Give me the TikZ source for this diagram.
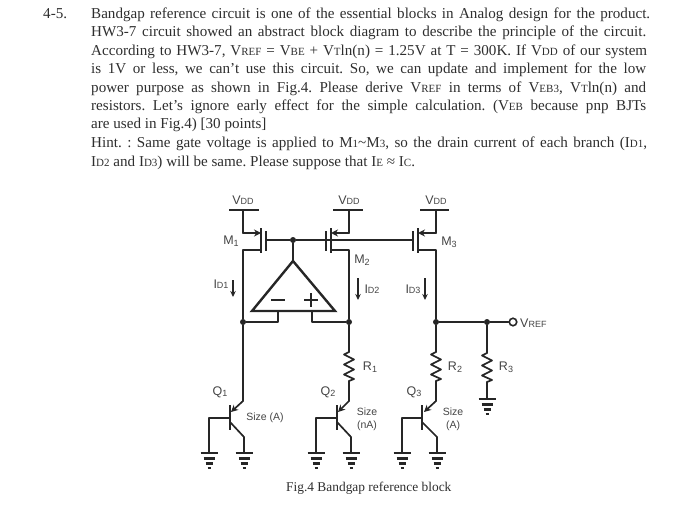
\documentclass[tikz,border=0pt]{standalone}
\usepackage{fontspec}
\setmainfont{Liberation Serif}
\setsansfont{Liberation Sans}
\usetikzlibrary{arrows.meta}
\definecolor{ink}{HTML}{262626}
\definecolor{txt}{HTML}{2E2E2E}
\definecolor{lab}{HTML}{444444}
\newcommand{\smc}[1]{{\fontsize{11}{12}\selectfont #1}}
\newcommand{\tline}[1]{\frenchspacing\fontsize{15.1}{16}\selectfont #1}
\newcommand{\subt}[1]{{\fontsize{9}{9}\selectfont #1}}
\tikzset{
  x=1pt,y=-1pt,
  wire/.style={draw=ink,line width=1.7pt,line cap=round,line join=round},
  heavy/.style={draw=ink,line width=2.4pt},
  dot/.style={circle,fill=ink,inner sep=0pt,minimum size=6pt},
  pin/.style={circle,draw=ink,fill=white,line width=1.6pt,inner sep=0pt,minimum size=7.5pt},
  para/.style={anchor=base west,inner sep=0pt,text=txt},
  clab/.style={inner sep=0pt,text=lab,font=\sffamily\fontsize{12.5}{13}\selectfont},
  sizelab/.style={clab,align=center,font=\sffamily\fontsize{10.5}{13}\selectfont},
  tip/.style={-{Stealth[length=7pt,width=7pt]}},
  cur/.style={draw=ink,line width=1.3pt,-{Stealth[length=6pt,width=5.5pt]}},
  pics/gnd/.style={code={
    \draw[wire,line width=2.2pt,line cap=butt] (-8.5,0)--(8.5,0) (-5.5,5.5)--(5.5,5.5) (-3.5,10.5)--(3.5,10.5) (-1.5,15)--(1.5,15);}},
  pics/zig/.style={code={
    \draw[wire] (0,0)--(-5,2.5)--(5,7.5)--(-5,12.5)--(5,17.5)--(-5,22.5)--(5,27)--(0,29);}}
}
\begin{document}
\begin{tikzpicture}
\useasboundingbox (0,0) rectangle (700,521);
% paragraph
\node[para] (num) at (43,18.5) {\tline{4-5.}};
\node[para] (l1) at (91,18.5) {\tline{\makebox[559pt][s]{Bandgap reference circuit is one of the essential blocks in Analog design for the product.}}};
\node[para] (l2) at (91,37) {\tline{\makebox[555pt][s]{HW3-7 circuit showed an abstract block diagram to describe the principle of the circuit.}}};
\node[para] (l3) at (91,55.5) {\tline{\makebox[556pt][s]{According to HW3-7, V\smc{REF} = V\smc{BE} + V\smc{T}ln(n) = 1.25V at T = 300K. If V\smc{DD} of our system}}};
\node[para] (l4) at (91,74) {\tline{\makebox[555pt][s]{is 1V or less, we can’t use this circuit. So, we can update and implement for the low}}};
\node[para] (l5) at (91,92.5) {\tline{\makebox[555pt][s]{power purpose as shown in Fig.4. Please derive V\smc{REF} in terms of V\smc{EB3}, V\smc{T}ln(n) and}}};
\node[para] (l6) at (91,111) {\tline{\makebox[555pt][s]{resistors. Let’s ignore early effect for the simple calculation. (V\smc{EB} because pnp BJTs}}};
\node[para] (l7) at (91,129) {\tline{are used in Fig.4) [30 points]}};
\node[para] (l8) at (91,148) {\tline{\makebox[556pt][s]{Hint. : Same gate voltage is applied to M\smc{1}\textasciitilde M\smc{3}, so the drain current of each branch (I\smc{D1},}}};
\node[para] (l9) at (91,166.5) {\tline{I\smc{D2} and I\smc{D3}) will be same. Please suppose that I\smc{E} ≈ I\smc{C}.}};
\node[para] (cap) at (286,491.5) {\fontsize{13.4}{14}\selectfont Fig.4 Bandgap reference block};
% coordinates
\coordinate (s1) at (243,210); \coordinate (s2) at (349,210); \coordinate (s3) at (436,210);
\coordinate (a1) at (243,233); \coordinate (a2) at (349,233); \coordinate (a3) at (436,233);
\coordinate (c1) at (261,233); \coordinate (c2) at (331,233); \coordinate (c3) at (418,233);
\coordinate (d1) at (243,250); \coordinate (d2) at (349,250); \coordinate (d3) at (436,250);
\coordinate (dc1) at (261,250); \coordinate (dc2) at (331,250); \coordinate (dc3) at (418,250);
\coordinate (g1) at (266,240); \coordinate (g3) at (413,240);
\node[dot] (jg) at (293,240) {};
\coordinate (apex) at (293,261); \coordinate (bl) at (252,311); \coordinate (br) at (335,311);
\coordinate (tm) at (278,311); \coordinate (tp) at (312,311);
\coordinate (tmb) at (278,322); \coordinate (tpb) at (312,322);
\node[dot] (j1) at (243,322) {}; \node[dot] (j2) at (349,322) {};
\node[dot] (j3) at (436,322) {}; \node[dot] (j4) at (487,322) {};
\node[pin] (vref) at (513,322) {};
% VDD bars
\draw[heavy] (229,210)--(259,210) (333,210)--(363,210) (420,210)--(449,210);
% sources with arrows
\draw[wire] (s1)--(a1); \draw[wire,tip] (a1)--(c1);
\draw[wire] (s2)--(a2); \draw[wire,tip] (a2)--(c2);
\draw[wire] (s3)--(a3); \draw[wire,tip] (a3)--(c3);
% channels and gates
\draw[heavy] (261,228)--(261,253) (266,231)--(266,251);
\draw[heavy] (331,228)--(331,253) (326,231)--(326,251);
\draw[heavy] (418,228)--(418,253) (413,231)--(413,251);
\draw[wire] (g1)--(jg)--(g3);
\draw[wire] (jg)--(apex);
% drains
\draw[wire] (dc1)--(d1)--(j1);
\draw[wire] (dc2)--(d2)--(j2);
\draw[wire] (dc3)--(d3)--(j3);
% amplifier
\draw[heavy,line join=miter] (apex)--(br)--(bl)--cycle;
\draw[wire] (tm)--(tmb)--(j1);
\draw[wire] (tp)--(tpb)--(j2);
\draw[heavy] (271,300)--(285,300) (304,300)--(318,300) (311,293)--(311,307);
% output
\draw[wire] (j3)--(j4)--(vref);
% branch 1, Q1
\coordinate (e1) at (243,401); \coordinate (ee1) at (231,412);
\draw[wire] (j1)--(e1); \draw[wire,tip] (e1)--(ee1);
\draw[heavy] (230,405)--(230,430);
\coordinate (gb1) at (209,453); \coordinate (gc1) at (244,453);
\draw[wire] (230,418)--(209,418)--(gb1);
\draw[wire] (230,422)--(244,437)--(gc1);
\pic at (gb1) {gnd}; \pic at (gc1) {gnd};
% branch 2, R1 and Q2
\coordinate (r1t) at (349,352); \coordinate (r1b) at (349,381);
\draw[wire] (j2)--(r1t); \pic at (r1t) {zig};
\coordinate (e2) at (349,401); \coordinate (ee2) at (338,412);
\draw[wire] (r1b)--(e2); \draw[wire,tip] (e2)--(ee2);
\draw[heavy] (337,405)--(337,430);
\coordinate (gb2) at (316,453); \coordinate (gc2) at (351,453);
\draw[wire] (337,418)--(316,418)--(gb2);
\draw[wire] (337,422)--(351,437)--(gc2);
\pic at (gb2) {gnd}; \pic at (gc2) {gnd};
% branch 3, R2 and Q3
\coordinate (r2t) at (436,352); \coordinate (r2b) at (436,381);
\draw[wire] (j3)--(r2t); \pic at (r2t) {zig};
\coordinate (e3) at (436,401); \coordinate (ee3) at (424,412);
\draw[wire] (r2b)--(e3); \draw[wire,tip] (e3)--(ee3);
\draw[heavy] (422,405)--(422,430);
\coordinate (gb3) at (402,453); \coordinate (gc3) at (437,453);
\draw[wire] (422,418)--(402,418)--(gb3);
\draw[wire] (422,422)--(437,437)--(gc3);
\pic at (gb3) {gnd}; \pic at (gc3) {gnd};
% R3
\coordinate (r3t) at (487,353); \coordinate (r3b) at (487,382); \coordinate (gr3) at (487,399);
\draw[wire] (j4)--(r3t); \pic at (r3t) {zig};
\draw[wire] (r3b)--(gr3); \pic at (gr3) {gnd};
% current arrows
\coordinate (i1a) at (233,280); \coordinate (i1b) at (233,297);
\coordinate (i2a) at (358,278); \coordinate (i2b) at (358,300);
\coordinate (i3a) at (425,278); \coordinate (i3b) at (425,300);
\draw[cur] (i1a)--(i1b); \draw[cur] (i2a)--(i2b); \draw[cur] (i3a)--(i3b);
% labels
\node[clab] (vdd1) at (243,200) {V\subt{DD}};
\node[clab] (vdd2) at (349,200) {V\subt{DD}};
\node[clab] (vdd3) at (436,200) {V\subt{DD}};
\node[clab] (m1) at (231,241) {M\raisebox{-1.5pt}{\subt{1}}};
\node[clab] (m2) at (362,260) {M\raisebox{-1.5pt}{\subt{2}}};
\node[clab] (m3) at (449,242) {M\raisebox{-1.5pt}{\subt{3}}};
\node[clab] (id1) at (221,284) {I\subt{D1}};
\node[clab] (id2) at (372,289) {I\subt{D2}};
\node[clab] (id3) at (413,289) {I\subt{D3}};
\node[clab,anchor=west] (vr) at (520,323) {V\subt{REF}};
\node[clab] (r1) at (370,367) {R\raisebox{-1.5pt}{\subt{1}}};
\node[clab] (r2) at (455,367) {R\raisebox{-1.5pt}{\subt{2}}};
\node[clab] (r3) at (506,367) {R\raisebox{-1.5pt}{\subt{3}}};
\node[clab] (q1) at (220,392) {Q\raisebox{-1.5pt}{\subt{1}}};
\node[clab] (q2) at (328,392) {Q\raisebox{-1.5pt}{\subt{2}}};
\node[clab] (q3) at (414,392) {Q\raisebox{-1.5pt}{\subt{3}}};
\node[sizelab] (sa1) at (265,418) {Size (A)};
\node[sizelab] (sa2) at (367,419.5) {Size\\(nA)};
\node[sizelab] (sa3) at (453,419.5) {Size\\(A)};
\end{tikzpicture}
\end{document}
